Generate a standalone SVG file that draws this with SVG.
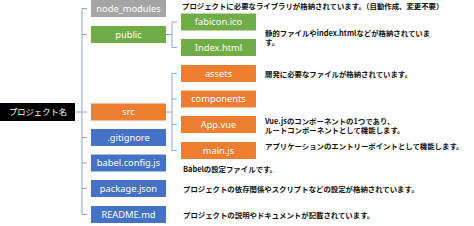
<svg xmlns="http://www.w3.org/2000/svg" width="474" height="226" viewBox="0 0 474 226">
<style>
.bx text{font-family:"Noto Sans","Liberation Sans",sans-serif;font-size:9.3px;fill:#fff;text-anchor:middle}
.g rect{fill:#70ad47}
.o rect{fill:#ed7d31}
.b rect{fill:#4472c4}
.d{font-family:"Noto Sans CJK JP","Noto Sans",sans-serif;font-size:7.4px;font-weight:bold;fill:#111}
#connectors path{fill:none;stroke:#8ea6c9;stroke-width:1}
</style>
<rect width="474" height="226" fill="#fff"/>
<g id="connectors">
<path d="M75,112H87M87,8.5H82V214.5H87M82,34.5H87M82,137.5H87M82,163H87M82,188.5H87"/>
<path d="M166,34.5H172M177,22H172V47.5H177"/>
<path d="M166,112H172M177,73.5H172V150.5H177M172,99H177M172,124.5H177"/>
</g>
<g id="root" class="bx"><rect x="0" y="103" width="75" height="18" fill="#000"/><text x="38" y="115.3" style="font-family:'Noto Sans CJK JP',sans-serif;font-size:8.3px">プロジェクト名</text></g>
<g id="node_modules" class="bx"><rect x="91" y="0" width="75" height="17" fill="#a5a5a5"/><text x="128.5" y="11.8">node_modules</text></g>
<g id="public" class="bx g"><rect x="91" y="26" width="75" height="17"/><text x="128.5" y="37.8">public</text></g>
<g id="src" class="bx o"><rect x="91" y="103.5" width="75" height="17"/><text x="128.5" y="115.3">src</text></g>
<g id="gitignore" class="bx b"><rect x="91" y="129" width="75" height="17"/><text x="128.5" y="140.8">.gitignore</text></g>
<g id="babel" class="bx b"><rect x="91" y="154.5" width="75" height="17"/><text x="128.5" y="166.3">babel.config.js</text></g>
<g id="package" class="bx b"><rect x="91" y="180" width="75" height="17"/><text x="128.5" y="191.8">package.json</text></g>
<g id="readme" class="bx b"><rect x="91" y="206" width="75" height="17"/><text x="128.5" y="217.8">README.md</text></g>
<g id="fabicon" class="bx g"><rect x="181" y="13.5" width="75" height="17"/><text x="218.5" y="25.3">fabicon.ico</text></g>
<g id="index" class="bx g"><rect x="181" y="39" width="75" height="17"/><text x="218.5" y="50.8">Index.html</text></g>
<g id="assets" class="bx o"><rect x="181" y="65" width="75" height="17"/><text x="218.5" y="76.8">assets</text></g>
<g id="components" class="bx o"><rect x="181" y="90.5" width="75" height="17"/><text x="218.5" y="102.3">components</text></g>
<g id="appvue" class="bx o"><rect x="181" y="116" width="75" height="17"/><text x="218.5" y="127.8">App.vue</text></g>
<g id="mainjs" class="bx o"><rect x="181" y="142" width="75" height="17"/><text x="218.5" y="153.8">main.js</text></g>
<g id="descriptions">
<text class="d" x="182" y="8.7">プロジェクトに必要なライブラリが格納されています。（自動作成、変更不要）</text>
<text class="d" x="265" y="35.5">静的ファイルやindex.htmlなどが格納されていま</text>
<text class="d" x="265" y="45">す。</text>
<text class="d" x="265" y="76.7">開発に必要なファイルが格納されています。</text>
<text class="d" x="265" y="123.5">Vue.jsのコンポーネントの1つであり、</text>
<text class="d" x="265" y="133">ルートコンポーネントとして機能します。</text>
<text class="d" x="265" y="149">アプリケーションのエントリーポイントとして機能します。</text>
<text class="d" x="183" y="171.5">Babelの設定ファイルです。</text>
<text class="d" x="183" y="191.5">プロジェクトの依存関係やスクリプトなどの設定が格納されています。</text>
<text class="d" x="183" y="217.5">プロジェクトの説明やドキュメントが記載されています。</text>
</g>
</svg>
